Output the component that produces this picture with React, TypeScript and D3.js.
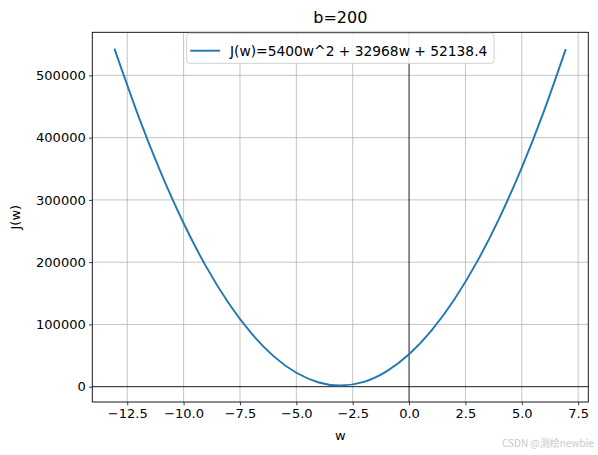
import { useEffect, useRef } from "react";
import * as d3 from "d3";

// points (w, J(w))
const wValues = [
  -13.07, -12, -11, -10, -9, -8, -7, -6, -5, -4, -3.05, -2, -1, 0, 1, 2, 3, 4, 5, 6, 6.95,
];
const jValues = [
  543000, 434100, 342900, 262500, 192800, 134000, 86000, 48700, 22300, 6700, 1820, 7800,
  24600, 52100, 90500, 139700, 199600, 270400, 352000, 444300, 542100,
];
const xTicks = [-12.5, -10, -7.5, -5, -2.5, 0, 2.5, 5, 7.5];
const yTicks = [0, 100000, 200000, 300000, 400000, 500000];
const legendLabel = "J(w)=5400w^2 + 32968w + 52138.4";
const title = "b=200";

const W = 598;
const H = 455;
const FONT = "'DejaVu Sans', sans-serif";

export default function App() {
  const svgRef = useRef<SVGSVGElement>(null);

  useEffect(() => {
    if (!svgRef.current) return;
    const margin = { top: 32.3, right: W - 588.3, bottom: H - 402, left: 92.3 };
    const innerW = W - margin.left - margin.right;
    const innerH = H - margin.top - margin.bottom;

    const svg = d3.select(svgRef.current);
    svg.selectAll("*").remove();

    const x = d3.scaleLinear().domain([-14.05, 7.95]).range([0, innerW]);
    const y = d3.scaleLinear().domain([-24600, 569200]).range([innerH, 0]);

    const g = svg
      .append("g")
      .attr("transform", `translate(${margin.left},${margin.top})`);

    // grid
    g.append("g")
      .selectAll("line")
      .data(xTicks.filter((t) => t !== 0))
      .join("line")
      .attr("x1", (d) => x(d))
      .attr("x2", (d) => x(d))
      .attr("y1", 0)
      .attr("y2", innerH)
      .attr("stroke", "#b0b0b0")
      .attr("stroke-width", 0.75);
    g.append("g")
      .selectAll("line")
      .data(yTicks.filter((t) => t !== 0))
      .join("line")
      .attr("x1", 0)
      .attr("x2", innerW)
      .attr("y1", (d) => y(d))
      .attr("y2", (d) => y(d))
      .attr("stroke", "#b0b0b0")
      .attr("stroke-width", 0.75);

    // zero lines
    g.append("line")
      .attr("x1", 0)
      .attr("x2", innerW)
      .attr("y1", y(0))
      .attr("y2", y(0))
      .attr("stroke", "black")
      .attr("stroke-width", 0.9);
    g.append("line")
      .attr("x1", x(0))
      .attr("x2", x(0))
      .attr("y1", 0)
      .attr("y2", innerH)
      .attr("stroke", "black")
      .attr("stroke-width", 0.9);

    const data = wValues.map((w, i) => [w, jValues[i]] as [number, number]);
    const line = d3
      .line<[number, number]>()
      .x((d) => x(d[0]))
      .y((d) => y(d[1]))
      .curve(d3.curveNatural);
    g.append("path")
      .datum(data)
      .attr("d", line)
      .attr("fill", "none")
      .attr("stroke", "#1f77b4")
      .attr("stroke-width", 1.9);

    // axes
    const xAxis = g
      .append("g")
      .attr("transform", `translate(0,${innerH})`)
      .call(
        d3
          .axisBottom(x)
          .tickValues(xTicks)
          .tickSize(3.3)
          .tickPadding(3.3)
          .tickFormat((d) => d3.format(".1f")(d as number).replace("-", "\u2212"))
      );
    const yAxis = g
      .append("g")
      .call(
        d3
          .axisLeft(y)
          .tickValues(yTicks)
          .tickSize(3.3)
          .tickPadding(3.3)
          .tickFormat((d) => String(d))
      );
    [xAxis, yAxis].forEach((a) => {
      a.select(".domain").remove();
      a.selectAll("line").attr("stroke", "black").attr("stroke-width", 0.75);
      a.selectAll("text")
        .attr("fill", "black")
        .style("font-size", "13px")
        .style("font-family", FONT);
    });

    // frame
    g.append("rect")
      .attr("width", innerW)
      .attr("height", innerH)
      .attr("fill", "none")
      .attr("stroke", "black")
      .attr("stroke-width", 0.9);

    // legend
    const lg = g.append("g").attr("transform", `translate(${186.7 - margin.left},${33.3 - margin.top})`);
    lg.append("rect")
      .attr("width", 307.3)
      .attr("height", 30)
      .attr("rx", 3)
      .attr("fill", "white")
      .attr("fill-opacity", 0.88)
      .attr("stroke", "#cccccc")
      .attr("stroke-width", 0.9);
    lg.append("line")
      .attr("x1", 3.5)
      .attr("x2", 33.5)
      .attr("y1", 17.4)
      .attr("y2", 17.4)
      .attr("stroke", "#1f77b4")
      .attr("stroke-width", 1.9);
    lg.append("text")
      .attr("x", 43.3)
      .attr("y", 17.4)
      .attr("dy", "0.35em")
      .style("font-size", "13.8px")
      .style("font-family", FONT)
      .text(legendLabel);

    // titles
    svg
      .append("text")
      .attr("x", margin.left + innerW / 2)
      .attr("y", 23)
      .attr("text-anchor", "middle")
      .style("font-size", "16px")
      .style("font-family", FONT)
      .text(title);
    svg
      .append("text")
      .attr("x", margin.left + innerW / 2)
      .attr("y", 440)
      .attr("text-anchor", "middle")
      .style("font-size", "13px")
      .style("font-family", FONT)
      .text("w");
    svg
      .append("text")
      .attr("transform", `translate(20,${margin.top + innerH / 2}) rotate(-90)`)
      .attr("text-anchor", "middle")
      .style("font-size", "13px")
      .style("font-family", FONT)
      .text("J(w)");

    // watermark
    svg
      .append("text")
      .attr("x", 594)
      .attr("y", 447)
      .attr("text-anchor", "end")
      .attr("fill", "#c8c8c8")
      .style("font-size", "10px")
      .style("font-family", "'Noto Sans CJK SC', sans-serif")
      .text("CSDN @测绘newbie");
  }, []);

  return (
    <svg
      ref={svgRef}
      width={W}
      height={H}
      style={{ position: "absolute", left: 0, top: 0, background: "white" }}
    />
  );
}
